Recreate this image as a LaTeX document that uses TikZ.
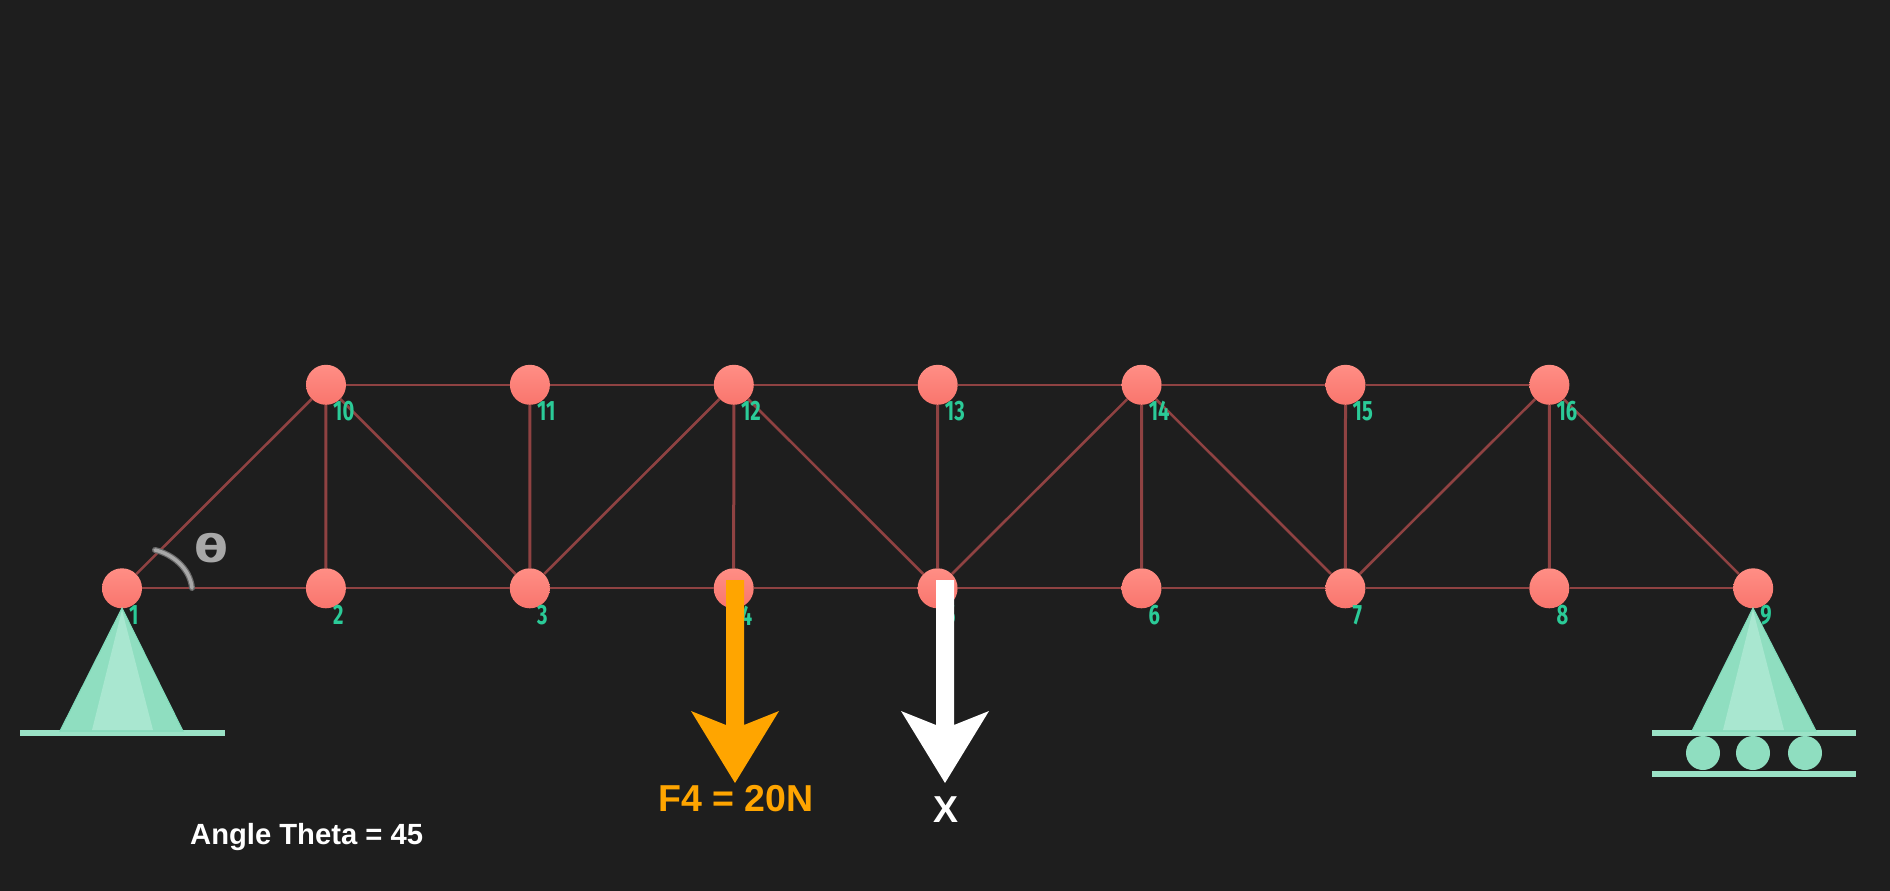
\documentclass[tikz,border=0pt]{standalone}
\usepackage{fontspec}
\setmainfont{Liberation Sans}
\newfontfamily\labfont{Fira Sans}
\newfontfamily\thetafont{DejaVu Sans}
\definecolor{bgc}{HTML}{1E1E1E}
\definecolor{memberc}{HTML}{8F4242}
\definecolor{jointtop}{HTML}{FF8E85}
\definecolor{jointbot}{HTML}{F9756D}
\definecolor{labc}{HTML}{2BCB98}
\definecolor{supc}{HTML}{8FDEC0}
\definecolor{supl}{HTML}{A9E7D0}
\definecolor{forcec}{HTML}{FFA500}
\definecolor{thetac}{HTML}{A8A8A8}
\tikzset{
  joint/.style={circle,minimum size=40pt,inner sep=0pt,top color=jointtop,bottom color=jointbot},
  member/.style={draw=memberc,line width=2.6pt},
  chordlow/.style={draw=memberc,line width=2pt},
  chordtop/.style={draw=memberc,line width=2.6pt},
  postbar/.style={draw=memberc,line width=3pt},
  jlabel/.style={text=labc,anchor=west,inner sep=0pt,font=\labfont\bfseries\fontsize{28}{28}\selectfont},
  bigtext/.style={font=\bfseries\fontsize{37.5}{37.5}\selectfont,inner sep=0pt},
  supbody/.style={fill=supc,draw=supc!85!labc,line width=1pt},
}
\newcommand{\narrow}[1]{\scalebox{0.72}[1]{#1}}
\begin{document}
\begin{tikzpicture}[x=1pt,y=-1pt]
\useasboundingbox (0,0) rectangle (1890,891);
\fill[bgc] (0,0) rectangle (1890,891);
% joints
\foreach \i in {1,...,9}{
  \pgfmathsetmacro{\xx}{122+(\i-1)*203.9}
  \node[joint] (n\i) at (\xx,588.3) {};
}
\foreach \i in {10,...,16}{
  \pgfmathsetmacro{\xx}{326+(\i-10)*203.9}
  \node[joint] (n\i) at (\xx,384.8) {};
}
% members
\foreach \a/\b in {1/2,2/3,3/4,4/5,5/6,6/7,7/8,8/9}{
  \draw[chordlow] (n\a) -- (n\b);
}
\foreach \a/\b in {10/11,11/12,12/13,13/14,14/15,15/16}{
  \draw[chordtop] (n\a) -- (n\b);
}
\foreach \a/\b in {10/2,11/3,12/4,13/5,14/6,15/7,16/8}{
  \draw[postbar] (n\a) -- (n\b);
}
\foreach \a/\b in {1/10,10/3,3/12,12/5,5/14,14/7,7/16,16/9}{
  \draw[member] (n\a) -- (n\b);
}
% joint labels
\foreach \i in {1,...,9}{
  \node[jlabel] (l\i) at ([xshift=7pt,yshift=-27pt]n\i.center) {\narrow{\i}};
}
\foreach \i in {10,...,16}{
  \node[jlabel] (l\i) at ([xshift=7pt,yshift=-26pt]n\i.center) {\narrow{\i}};
}
% left support
\fill[supl!40!supc] (20,730) rectangle (225,736);
\path[supbody] (122,608) -- (60,731) -- (183,731) -- cycle;
\fill[supl] (122,610) -- (92,730) -- (153,730) -- cycle;
% right support
\fill[supl!40!supc] (1652,730) rectangle (1856,736);
\fill[supl!40!supc] (1652,771) rectangle (1856,777);
\path[supbody] (1753,608) -- (1692,731) -- (1816,731) -- cycle;
\fill[supl] (1753,610) -- (1723,730) -- (1784,730) -- cycle;
\foreach \cx in {1703,1753,1805}{
  \fill[supc] (\cx,753) circle (17);
}
% angle mark
\draw[thetac!55!bgc,line width=6pt,line cap=round] (155,550) .. controls (172,554) and (190,568) .. (192,588);
\draw[thetac,line width=3.5pt,line cap=round] (155,550) .. controls (172,554) and (190,568) .. (192,588);
\node[text=thetac,inner sep=0pt,font=\thetafont\bfseries\fontsize{38}{38}\selectfont] (theta) at (211,548) {\scalebox{1.3}[1]{θ}};
% force arrows
\fill[forcec] (726,580) -- (744,580) -- (744,725) -- (779,711) -- (735,783) -- (691,711) -- (726,725) -- cycle;
\fill[white] (936,580) -- (954,580) -- (954,725) -- (989,711) -- (945,783) -- (901,711) -- (936,725) -- cycle;
% texts
\node[bigtext,text=forcec,anchor=base west] (f4) at (658,811) {F4 = 20N};
\node[bigtext,text=white,anchor=base] (xl) at (945.5,822) {X};
\node[text=white,anchor=base west,inner sep=0pt,font=\bfseries\fontsize{29.2}{29.2}\selectfont] (ang) at (190,844) {Angle Theta = 45};
\end{tikzpicture}
\end{document}
